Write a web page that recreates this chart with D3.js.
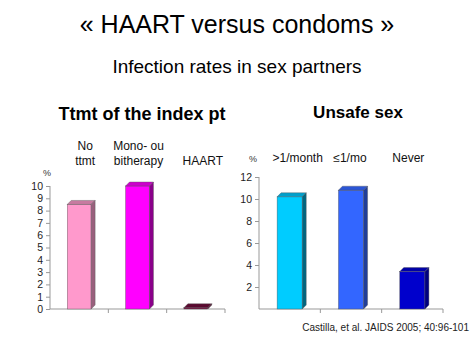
<!DOCTYPE html>
<html><head><meta charset="utf-8">
<script src="https://cdn.jsdelivr.net/npm/d3@7"></script>
<style>body{margin:0;background:#fff}svg{display:block;font-family:"Liberation Sans",Arial,sans-serif}</style>
</head><body>
<script>
const leftCategories = [["No","ttmt"],["Mono- ou","bitherapy"],["HAART"]];
const leftValues = [8.5, 10, 0.1];
const leftTicks = [0,1,2,3,4,5,6,7,8,9,10];
const rightCategories = [">1/month","≤1/mo","Never"];
const rightValues = [10.2, 10.8, 3.4];
const rightTicks = [2,4,6,8,10,12];
const leftColors = [["#ff99cc","#c77aa0","#99607d"],["#ff00ff","#cc00cc","#8a008a"],["#7a1040","#5a0a30","#4a0828"]];
const rightColors = [["#00ccff","#00a0cc","#006680"],["#3366ff","#2a55d6","#1f3d99"],["#0000cc","#0000a8","#000080"]];

const W=474,H=355;
const svg=d3.select("body").append("svg").attr("width",W).attr("height",H);

svg.append("text").attr("x",237).attr("y",33).attr("text-anchor","middle").attr("font-size",25).text("« HAART versus condoms »");
svg.append("text").attr("x",237).attr("y",73).attr("text-anchor","middle").attr("font-size",19).text("Infection rates in sex partners");
svg.append("text").attr("x",142).attr("y",120).attr("text-anchor","middle").attr("font-size",18).attr("font-weight","bold").text("Ttmt of the index pt");
svg.append("text").attr("x",358).attr("y",118).attr("text-anchor","middle").attr("font-size",17).attr("font-weight","bold").text("Unsafe sex");
svg.append("text").attr("x",469).attr("y",331).attr("text-anchor","end").attr("font-size",10).attr("fill","#222").text("Castilla, et al.  JAIDS 2005; 40:96-101");

const d=4;
function bar3d(g,x0,w,yv,y0,cols){
  g.append("rect").attr("x",x0).attr("y",yv).attr("width",w).attr("height",Math.max(0,y0-yv)).attr("fill",cols[0]).attr("stroke","#555").attr("stroke-width",0.4);
  g.append("polygon").attr("points",[[x0,yv],[x0+d,yv-d],[x0+w+d,yv-d],[x0+w,yv]].join(" ")).attr("fill",cols[1]).attr("stroke","#555").attr("stroke-width",0.4);
  g.append("polygon").attr("points",[[x0+w,yv],[x0+w+d,yv-d],[x0+w+d,y0-d],[x0+w,y0]].join(" ")).attr("fill",cols[2]).attr("stroke","#555").attr("stroke-width",0.4);
}

function chart(opts){
  const g=svg.append("g");
  const y=d3.scaleLinear().domain(opts.domain).range([309,opts.top]);
  const x=d3.scaleBand().domain(d3.range(opts.values.length)).range([opts.x0,opts.x1]);
  const ax=d3.axisLeft(y).tickValues(opts.ticks).tickSize(4).tickFormat(d3.format("d"));
  const ag=g.append("g").attr("transform",`translate(${opts.x0},0)`).call(ax);
  ag.select(".domain").attr("stroke","#999").attr("d",`M0,${y(0)}V${y(opts.domain[1])}`);
  ag.selectAll(".tick line").attr("stroke","#999");
  ag.selectAll(".tick text").attr("font-size",10.5).attr("fill","#222").attr("font-family","Liberation Sans, Arial, sans-serif");
  g.append("line").attr("x1",opts.x0).attr("x2",opts.x1).attr("y1",y(0)).attr("y2",y(0)).attr("stroke","#999");
  x.domain().slice(1).forEach(i=>{
    g.append("line").attr("x1",x(i)).attr("x2",x(i)).attr("y1",y(0)).attr("y2",y(0)+4).attr("stroke","#999");
  });
  g.append("line").attr("x1",opts.x1).attr("x2",opts.x1).attr("y1",y(0)).attr("y2",y(0)+4).attr("stroke","#999");
  g.append("text").attr("x",opts.pctX).attr("y",opts.pctY).attr("font-size",9).attr("fill","#333").attr("text-anchor","middle").text("%");
  opts.values.forEach((v,i)=>{
    const w=x.bandwidth()*0.41;
    const cx=x(i)+x.bandwidth()/2;
    bar3d(g,cx-w/2,w,y(v),y(0),opts.colors[i]);
  });
  opts.labels.forEach((lab,i)=>{
    const lines=Array.isArray(lab)?lab:[lab];
    const cx=x(i)+x.bandwidth()/2+opts.labDx[i];
    const t=g.append("text").attr("text-anchor","middle").attr("font-size",12).attr("fill","#111");
    const startY=opts.labY-(lines.length-1)*15;
    lines.forEach((ln,k)=>t.append("tspan").attr("x",cx).attr("y",startY+k*15).text(ln));
  });
}

chart({values:leftValues,labels:leftCategories,ticks:leftTicks,domain:[0,10],top:186,x0:50,x1:225,colors:leftColors,pctX:47,pctY:176,labY:165,labDx:[6,1,7]});
chart({values:rightValues,labels:rightCategories,ticks:rightTicks,domain:[0,12],top:177,x0:259,x1:443,colors:rightColors,pctX:253,pctY:162,labY:162,labDx:[8,-1,-4]});
</script>
</body></html>
